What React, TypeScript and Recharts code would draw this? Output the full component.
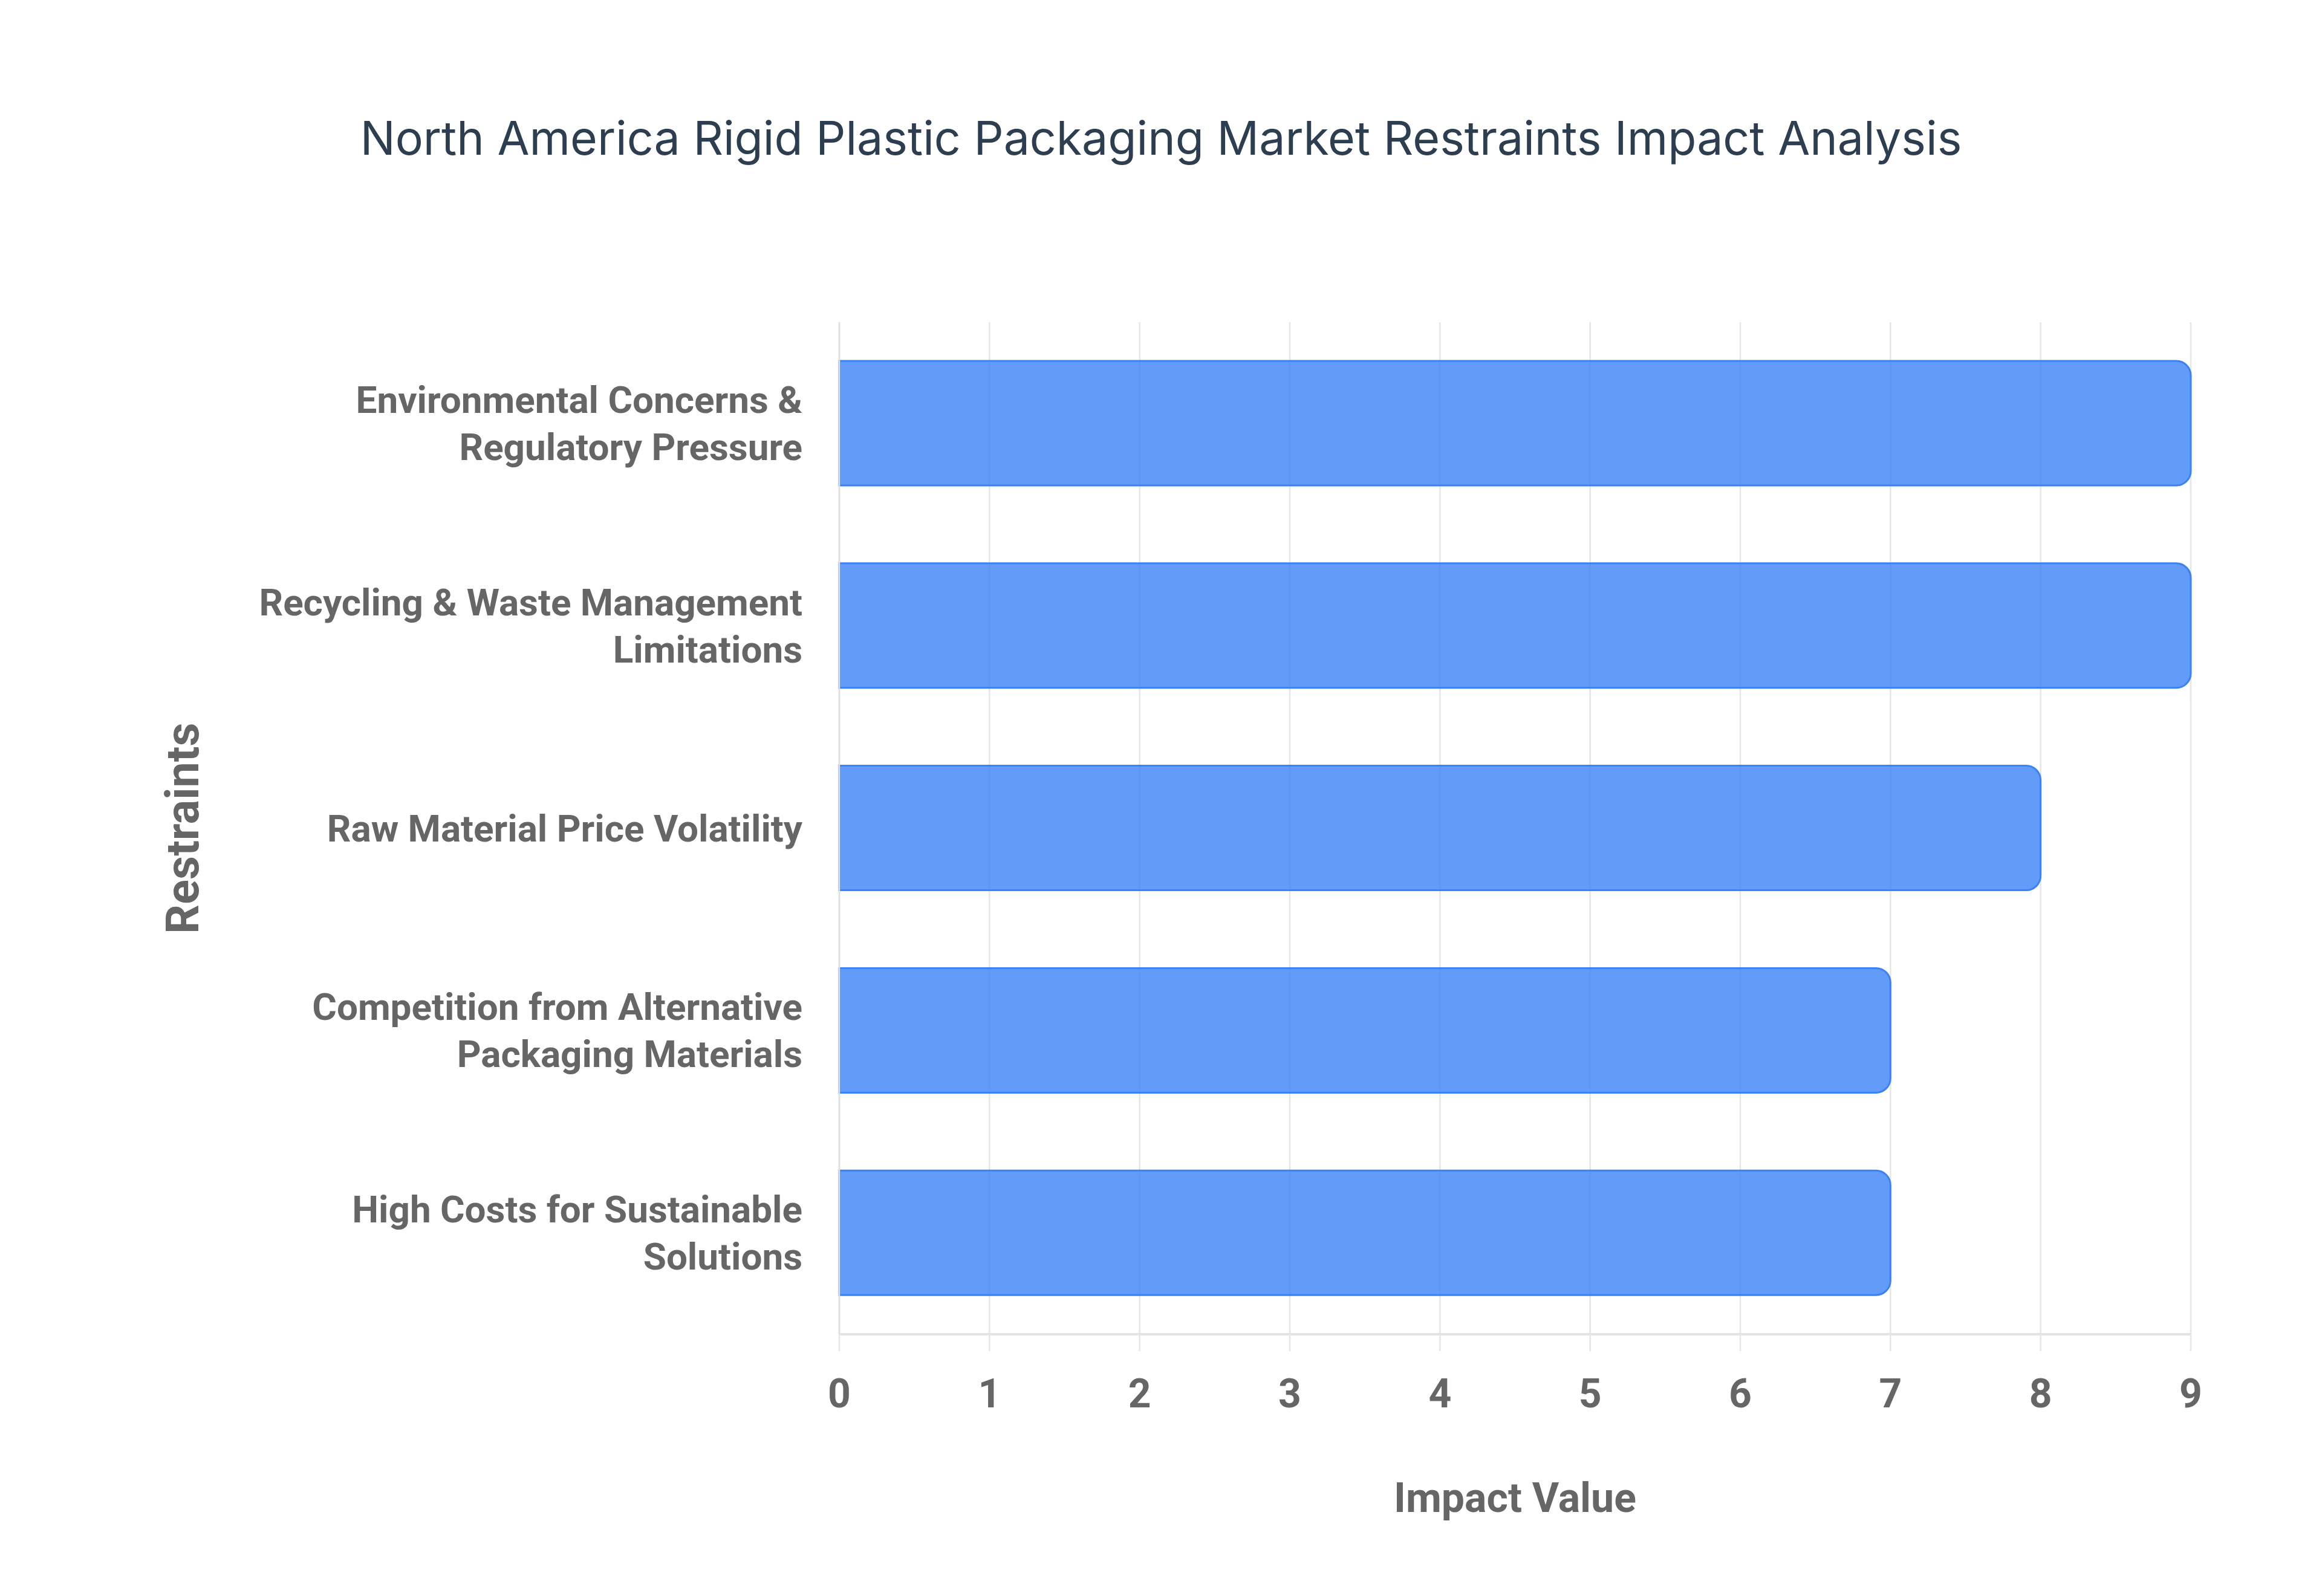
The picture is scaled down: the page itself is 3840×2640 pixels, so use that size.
import React from 'react';
import { BarChart, Bar, XAxis, YAxis, CartesianGrid } from 'recharts';

const restraints = [
  'Environmental Concerns & Regulatory Pressure',
  'Recycling & Waste Management Limitations',
  'Raw Material Price Volatility',
  'Competition from Alternative Packaging Materials',
  'High Costs for Sustainable Solutions',
];

const restraintLabelLines = [
  ['Environmental Concerns &', 'Regulatory Pressure'],
  ['Recycling & Waste Management', 'Limitations'],
  ['Raw Material Price Volatility'],
  ['Competition from Alternative', 'Packaging Materials'],
  ['High Costs for Sustainable', 'Solutions'],
];

const impactValues = [9, 9, 8, 7, 7];

const impactTicks = [0, 1, 2, 3, 4, 5, 6, 7, 8, 9];

const data = restraints.map((name, i) => ({
  name,
  lines: restraintLabelLines[i],
  impact: impactValues[i],
}));

const tickFont = "Roboto, 'Liberation Sans', Arial, sans-serif";

const CategoryTick = (props: any) => {
  const { x, y, index } = props;
  const lines: string[] = restraintLabelLines[index] || [props.payload.value];
  const lh = 78;
  const start = y - ((lines.length - 1) * lh) / 2;
  return (
    <text
      x={x - 61}
      y={start}
      textAnchor="end"
      fill="#666"
      fontFamily={tickFont}
      fontWeight={700}
      fontSize={62}
    >
      {lines.map((l, i) => (
        <tspan key={i} x={x - 61} y={start + i * lh} dominantBaseline="central">
          {l}
        </tspan>
      ))}
    </text>
  );
};

const ValueTick = (props: any) => {
  const { x, y, payload } = props;
  return (
    <text
      x={x}
      y={y + 70}
      textAnchor="middle"
      dominantBaseline="central"
      fill="#666"
      fontFamily={tickFont}
      fontWeight={700}
      fontSize={66}
    >
      {payload.value}
    </text>
  );
};

export default function App() {
  return (
    <div
      style={{
        position: 'absolute',
        left: 0,
        top: 0,
        width: 3840,
        height: 2640,
        background: '#fff',
      }}
    >
      <div
        style={{
          position: 'absolute',
          left: 0,
          width: 3840,
          top: 168,
          textAlign: 'center',
          fontFamily: "Inter, 'Open Sans', sans-serif",
          fontSize: 77,
          lineHeight: '120px',
          color: '#2c3e50',
        }}
      >
        North America Rigid Plastic Packaging Market Restraints Impact Analysis
      </div>
      <BarChart
        width={3840}
        height={2640}
        data={data}
        layout="vertical"
        margin={{ top: 533, right: 217, bottom: 0, left: 0 }}
      >
        <CartesianGrid horizontal={false} stroke="#e6e6e6" strokeWidth={2.5} />
        <XAxis
          type="number"
          domain={[0, 9]}
          ticks={impactTicks}
          interval={0}
          height={433}
          tickSize={28}
          tickMargin={0}
          tickLine={{ stroke: '#e6e6e6', strokeWidth: 2.5 }}
          axisLine={{ stroke: '#e3e3e3', strokeWidth: 4 }}
          tick={<ValueTick />}
          label={{
            content: (p: any) => {
              const vb = p.viewBox;
              return (
                <text
                  x={vb.x + vb.width / 2}
                  y={vb.y + 271}
                  textAnchor="middle"
                  dominantBaseline="central"
                  fill="#666"
                  fontFamily={tickFont}
                  fontWeight={700}
                  fontSize={68}
                >
                  Impact Value
                </text>
              );
            },
          }}
        />
        <YAxis
          type="category"
          dataKey="name"
          width={1388}
          tickSize={0}
          tickMargin={0}
          tickLine={false}
          axisLine={{ stroke: '#e0e0e0', strokeWidth: 2.5 }}
          tick={<CategoryTick />}
          interval={0}
          label={{
            content: (p: any) => {
              const vb = p.viewBox;
              const cy = vb.y + vb.height / 2;
              return (
                <text
                  x={302}
                  y={cy}
                  transform={`rotate(-90 302 ${cy})`}
                  textAnchor="middle"
                  dominantBaseline="central"
                  fill="#666"
                  fontFamily={tickFont}
                  fontWeight={700}
                  fontSize={76}
                >
                  Restraints
                </text>
              );
            },
          }}
        />
        <Bar
          dataKey="impact"
          barSize={206}
          fill="#3b82f6"
          fillOpacity={0.8}
          stroke="#3b82f6"
          strokeWidth={3}
          radius={[0, 24, 24, 0]}
          isAnimationActive={false}
        />
      </BarChart>
    </div>
  );
}
